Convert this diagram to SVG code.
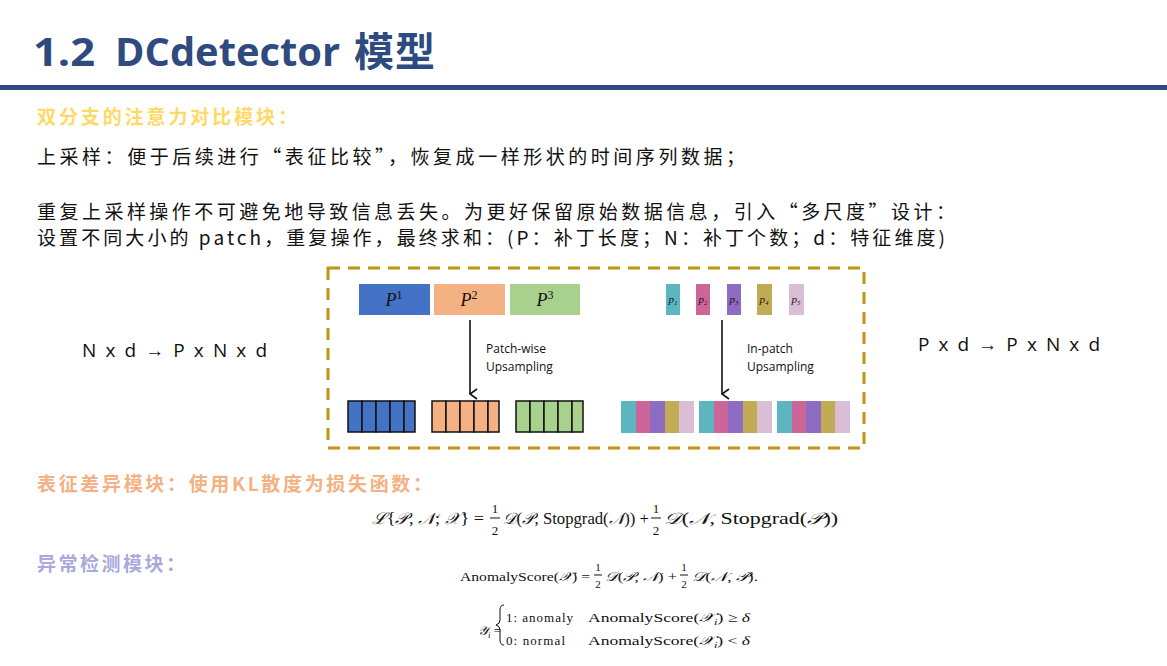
<svg xmlns="http://www.w3.org/2000/svg" width="1167" height="666" viewBox="0 0 1167 666">
<style>
.cn{font-family:"Noto Sans CJK SC","Noto Sans",sans-serif}
.body{font-size:19px;fill:#111}
.lab{font-family:"Open Sans","Noto Sans",sans-serif;font-size:12px;fill:#111}
.m{font-family:"Liberation Serif","DejaVu Serif",serif;fill:#111}
.cell{stroke:#111;stroke-width:1.5}
.t{font-family:"Open Sans","Noto Sans CJK SC",sans-serif;font-weight:bold;font-size:40px;fill:#2F4A7E}
</style>
<defs><marker id="ah" markerWidth="12" markerHeight="12" refX="6" refY="11" orient="auto" markerUnits="userSpaceOnUse"><path d="M1,4 L6,11 L11,4" fill="none" stroke="#111" stroke-width="1.6"/></marker></defs>
<rect width="1167" height="666" fill="#fff"/>
<text class="t" x="33" y="66" textLength="62" lengthAdjust="spacingAndGlyphs">1.2</text>
<text class="t" x="115" y="66" textLength="225" lengthAdjust="spacingAndGlyphs">DCdetector</text>
<text class="t" x="354" y="66" font-family="Noto Sans CJK SC,sans-serif" textLength="81">模型</text>
<rect x="0" y="85" width="1167" height="5" fill="#2F4A7E"/>
<text class="cn" x="37" y="124" font-size="19" font-weight="bold" fill="#FFD966" textLength="260">双分支的注意力对比模块：</text>
<text class="cn body" x="37" y="164" textLength="708">上采样：便于后续进行“表征比较”，恢复成一样形状的时间序列数据；</text>
<text class="cn body" x="37" y="219" textLength="918">重复上采样操作不可避免地导致信息丢失。为更好保留原始数据信息，引入“多尺度”设计：</text>
<text class="cn body" x="37" y="245" textLength="908">设置不同大小的 patch，重复操作，最终求和：(P：补丁长度；N：补丁个数；d：特征维度)</text>
<text x="82" y="357" font-family="Open Sans,sans-serif" font-size="19" fill="#111" textLength="185">N x d → P x N x d</text>
<text x="918" y="351" font-family="Open Sans,sans-serif" font-size="19" fill="#111" textLength="182">P x d → P x N x d</text>
<rect x="328" y="268" width="536" height="180" fill="none" stroke="#C29410" stroke-width="3" stroke-dasharray="12 8"/>
<g id="P1"><rect x="359" y="284" width="71" height="31" fill="#4472C4"/><text class="m" x="394" y="306" font-size="18" font-style="italic" text-anchor="middle">P<tspan dy="-7" font-size="12" font-style="normal">1</tspan></text></g>
<g id="P2"><rect x="434" y="284" width="71" height="31" fill="#F4B183"/><text class="m" x="469" y="306" font-size="18" font-style="italic" text-anchor="middle">P<tspan dy="-7" font-size="12" font-style="normal">2</tspan></text></g>
<g id="P3"><rect x="510" y="284" width="70" height="31" fill="#A9D18E"/><text class="m" x="545" y="306" font-size="18" font-style="italic" text-anchor="middle">P<tspan dy="-7" font-size="12" font-style="normal">3</tspan></text></g>
<g id="p1"><rect x="666" y="284" width="14" height="31" fill="#5DB5C0"/><text class="m" x="673" y="303" font-size="11" font-style="italic" text-anchor="middle">p<tspan dy="2" font-size="7">1</tspan></text></g>
<g id="p2"><rect x="696" y="284" width="14" height="31" fill="#CC6699"/><text class="m" x="703" y="303" font-size="11" font-style="italic" text-anchor="middle">p<tspan dy="2" font-size="7">2</tspan></text></g>
<g id="p3"><rect x="727" y="284" width="14" height="31" fill="#8E6CC4"/><text class="m" x="734" y="303" font-size="11" font-style="italic" text-anchor="middle">p<tspan dy="2" font-size="7">3</tspan></text></g>
<g id="p4"><rect x="757" y="284" width="15" height="31" fill="#C1AC55"/><text class="m" x="764" y="303" font-size="11" font-style="italic" text-anchor="middle">p<tspan dy="2" font-size="7">4</tspan></text></g>
<g id="p5"><rect x="789" y="284" width="15" height="31" fill="#D9BED6"/><text class="m" x="796" y="303" font-size="11" font-style="italic" text-anchor="middle">p<tspan dy="2" font-size="7">5</tspan></text></g>
<g id="connectors">
<line x1="470" y1="320" x2="470" y2="394" stroke="#111" stroke-width="1.6" marker-end="url(#ah)"/>
<line x1="722" y1="320" x2="722" y2="394" stroke="#111" stroke-width="1.6" marker-end="url(#ah)"/>
</g>
<text class="lab" x="486" y="353">Patch-wise</text><text class="lab" x="486" y="371">Upsampling</text>
<text class="lab" x="747" y="353">In-patch</text><text class="lab" x="747" y="371">Upsampling</text>
<g id="blueUp" class="cell" fill="#4472C4"><rect x="348" y="401" width="14" height="31"/><rect x="362" y="401" width="14" height="31"/><rect x="376" y="401" width="14" height="31"/><rect x="390" y="401" width="14" height="31"/><rect x="404" y="401" width="11" height="31"/></g>
<g id="orangeUp" class="cell" fill="#F4B183"><rect x="432" y="401" width="14" height="31"/><rect x="446" y="401" width="14" height="31"/><rect x="460" y="401" width="14" height="31"/><rect x="474" y="401" width="14" height="31"/><rect x="488" y="401" width="11" height="31"/></g>
<g id="greenUp" class="cell" fill="#A9D18E"><rect x="516" y="401" width="14" height="31"/><rect x="530" y="401" width="14" height="31"/><rect x="544" y="401" width="14" height="31"/><rect x="558" y="401" width="14" height="31"/><rect x="572" y="401" width="11" height="31"/></g>
<g id="strip1"><rect x="621" y="401" width="15" height="32" fill="#5DB5C0"/><rect x="636" y="401" width="14" height="32" fill="#CC6699"/><rect x="650" y="401" width="15" height="32" fill="#8E6CC4"/><rect x="665" y="401" width="14" height="32" fill="#C1AC55"/><rect x="679" y="401" width="15" height="32" fill="#D9BED6"/></g>
<g id="strip2"><rect x="699" y="401" width="15" height="32" fill="#5DB5C0"/><rect x="714" y="401" width="14" height="32" fill="#CC6699"/><rect x="728" y="401" width="15" height="32" fill="#8E6CC4"/><rect x="743" y="401" width="14" height="32" fill="#C1AC55"/><rect x="757" y="401" width="15" height="32" fill="#D9BED6"/></g>
<g id="strip3"><rect x="777" y="401" width="15" height="32" fill="#5DB5C0"/><rect x="792" y="401" width="14" height="32" fill="#CC6699"/><rect x="806" y="401" width="15" height="32" fill="#8E6CC4"/><rect x="821" y="401" width="14" height="32" fill="#C1AC55"/><rect x="835" y="401" width="15" height="32" fill="#D9BED6"/></g>
<text class="cn" x="37" y="491" font-size="19" font-weight="bold" fill="#F4B183" textLength="395">表征差异模块：使用KL散度为损失函数：</text>
<text class="cn" x="37" y="571" font-size="19" font-weight="bold" fill="#A9A9DC" textLength="148">异常检测模块：</text>
<g class="m" font-size="16">
<text x="372" y="524" textLength="112" lengthAdjust="spacingAndGlyphs"><tspan font-style="italic">ℒ</tspan>{<tspan font-style="italic">𝒫</tspan>, <tspan font-style="italic">𝒩</tspan>; <tspan font-style="italic">𝒳</tspan>} =</text>
<text x="495" y="513" font-size="13" text-anchor="middle">1</text><line x1="490" y1="518" x2="500" y2="518" stroke="#111"/><text x="495" y="535" font-size="13" text-anchor="middle">2</text>
<text x="503" y="524" textLength="146" lengthAdjust="spacingAndGlyphs"><tspan font-style="italic">𝒟</tspan>(<tspan font-style="italic">𝒫</tspan>, Stopgrad(<tspan font-style="italic">𝒩</tspan>)) +</text>
<text x="656" y="513" font-size="13" text-anchor="middle">1</text><line x1="651" y1="518" x2="661" y2="518" stroke="#111"/><text x="656" y="535" font-size="13" text-anchor="middle">2</text>
<text x="664" y="524" textLength="174" lengthAdjust="spacingAndGlyphs"><tspan font-style="italic">𝒟</tspan>(<tspan font-style="italic">𝒩</tspan>, Stopgrad(<tspan font-style="italic">𝒫</tspan>))</text>
</g>
<g class="m" font-size="13">
<text x="460" y="581" textLength="130" lengthAdjust="spacingAndGlyphs">AnomalyScore(<tspan font-style="italic">𝒳</tspan>) =</text>
<text x="598" y="571" font-size="11" text-anchor="middle">1</text><line x1="594" y1="575" x2="602" y2="575" stroke="#111"/><text x="598" y="588" font-size="11" text-anchor="middle">2</text>
<text x="605" y="581" textLength="72" lengthAdjust="spacingAndGlyphs"><tspan font-style="italic">𝒟</tspan>(<tspan font-style="italic">𝒫</tspan>, <tspan font-style="italic">𝒩</tspan>) +</text>
<text x="684" y="571" font-size="11" text-anchor="middle">1</text><line x1="680" y1="575" x2="688" y2="575" stroke="#111"/><text x="684" y="588" font-size="11" text-anchor="middle">2</text>
<text x="692" y="581" textLength="66" lengthAdjust="spacingAndGlyphs"><tspan font-style="italic">𝒟</tspan>(<tspan font-style="italic">𝒩</tspan>, <tspan font-style="italic">𝒫</tspan>).</text>
<text x="478" y="635"><tspan font-style="italic">𝒴</tspan><tspan font-style="italic" font-size="9" dy="3">i</tspan><tspan dy="-3"> =</tspan></text>
<path d="M504,605 q-4,0 -4,5 v10 q0,4 -4,5 q4,1 4,5 v10 q0,5 4,5" fill="none" stroke="#111" stroke-width="1"/>
<text x="506" y="622" textLength="67">1: anomaly</text><text x="588" y="622" textLength="162" lengthAdjust="spacingAndGlyphs">AnomalyScore(<tspan font-style="italic">𝒳</tspan><tspan font-style="italic" font-size="9" dy="3">i</tspan><tspan dy="-3">) ≥ </tspan><tspan font-style="italic">δ</tspan></text>
<text x="506" y="645" textLength="59">0: normal</text><text x="588" y="645" textLength="162" lengthAdjust="spacingAndGlyphs">AnomalyScore(<tspan font-style="italic">𝒳</tspan><tspan font-style="italic" font-size="9" dy="3">i</tspan><tspan dy="-3">) &lt; </tspan><tspan font-style="italic">δ</tspan></text>
</g>
</svg>
